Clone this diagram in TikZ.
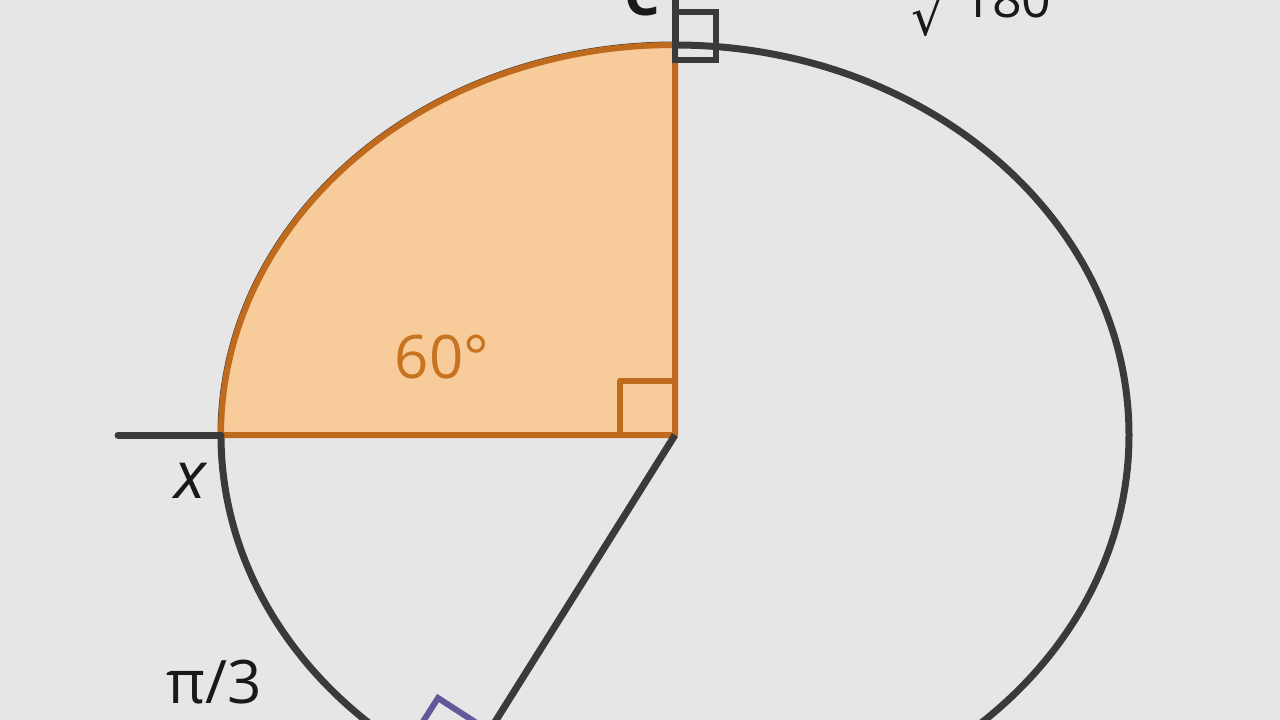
\documentclass[tikz,border=0pt]{standalone}
\usepackage{fontspec}
\setmainfont{Open Sans}
\newfontfamily\dejavu{DejaVu Sans}
\definecolor{bg}{HTML}{E6E6E6}
\definecolor{dark}{HTML}{3A3A3A}
\definecolor{ostroke}{HTML}{C06A1E}
\definecolor{ofill}{HTML}{F8CB9B}
\definecolor{otext}{HTML}{C8731F}
\definecolor{purp}{HTML}{62589A}
\begin{document}
\begin{tikzpicture}[x=1pt,y=-1pt,
  darkline/.style={draw=dark,line width=7pt},
  oline/.style={draw=ostroke,line width=6pt,line join=round},
  lbl/.style={inner sep=0pt,text=black!90}]
\fill[bg] (0,0) rectangle (1280,720);
\useasboundingbox (0,0) rectangle (1280,720);
\clip (0,0) rectangle (1280,720);
\coordinate (O) at (675,435);
\coordinate (T) at (675,45);
\coordinate (L) at (221,435);
\coordinate (E) at (118,435);
\coordinate (B) at (473,757);
\coordinate (Ptop) at (675,0);
% ellipse
\draw[darkline] (O) ellipse [x radius=454, y radius=390];
% sector
\filldraw[fill=ofill,oline] (O) -- (T) arc[start angle=-90, end angle=-180, x radius=454, y radius=390] -- cycle;
% right angle mark in sector
\draw[oline] (620,435) -- (620,381) -- (675,381);
% horizontal stub
\draw[darkline,line cap=round] (E) -- (L);
% slanted line
\draw[darkline] (O) -- (B);
% top marker
\draw[darkline] (Ptop) -- (T);
\draw[draw=dark,line width=6pt] (675,12) rectangle (716,60);
% purple right angle marker
\coordinate (F) at (489,731);
\coordinate (P) at (438,698);
\coordinate (Q) at (405,750);
\draw[draw=purp,line width=6pt,line join=miter] (F) -- (P) -- (Q);
% labels
\node[lbl,text=otext,font=\fontsize{60}{66}\selectfont] (deg) at (442,357) {60°};
\node[lbl,font=\fontsize{66}{72}\selectfont\itshape] (xl) at (190,481) {x};
\node[lbl,font=\fontsize{60}{66}\selectfont] (pi) at (214,682) {π/3};
\node[lbl,anchor=base,font=\fontsize{56}{62}\selectfont\bfseries] (cl) at (642,15) {C};
\node[lbl,anchor=base west,font=\fontsize{52}{58}\selectfont] (sq) at (911,17) {{\dejavu\raisebox{-18pt}{√}}\hspace{18pt}180};
\end{tikzpicture}
\end{document}
